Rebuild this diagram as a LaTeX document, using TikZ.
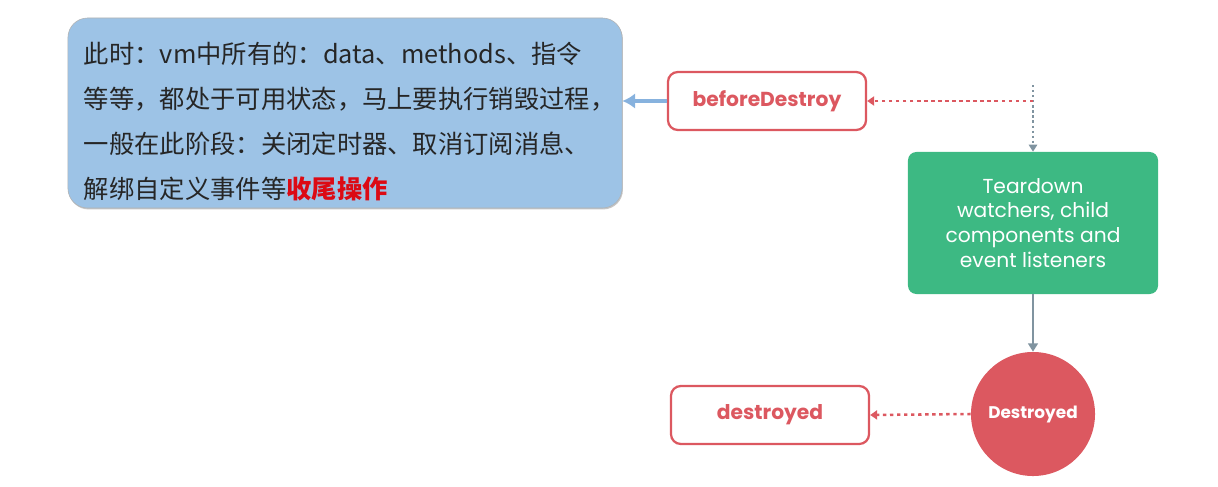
\documentclass[tikz,border=0pt]{standalone}
\usepackage{fontspec}
\setmainfont{Poppins}
\newfontfamily\cjkfont{Noto Sans CJK SC}
\definecolor{notefill}{RGB}{157,195,230}
\definecolor{hookred}{RGB}{220,88,96}
\definecolor{stepgreen}{RGB}{61,185,131}
\definecolor{flowgray}{RGB}{128,148,160}
\definecolor{notearrow}{RGB}{135,178,222}
\definecolor{keyred}{RGB}{220,10,20}
\usetikzlibrary{arrows.meta}
\usetikzlibrary{shadows}
\tikzset{
    hookbox/.style={draw=hookred, line width=1.6pt, fill=white, rounded corners=7pt,
        minimum width=4.95cm, minimum height=1.45cm, text=hookred, font=\bfseries\fontsize{14.4}{16}\selectfont},
    hookline/.style={hookred, line width=1.8pt, dash pattern=on 2.4pt off 2.6pt, -{Triangle[length=5pt,width=6.5pt]}},
    graydots/.style={flowgray, line width=1.1pt, dash pattern=on 1.6pt off 2pt, -{Triangle[length=5pt,width=6pt]}}
}

\begin{document}
\begin{tikzpicture}[x=0.025cm, y=-0.025cm]
    \useasboundingbox (0,0) rectangle (1218,487);

    \node[draw=gray!60, fill=notefill, rounded corners=14pt, minimum width=13.85cm, minimum height=4.75cm,
        drop shadow={opacity=0.45, shadow xshift=0.6pt, shadow yshift=-1pt}] (notebox) at (345,113) {};
    \node[text width=13.3cm, align=left, font=\cjkfont\fontsize{18}{32}\selectfont, text=black!85] (note) at (350,122)
        {此时：vm中所有的：data、methods、指令\\
         等等，都处于可用状态，马上要执行销毁过程，\\
         一般在此阶段：关闭定时器、取消订阅消息、\\
         解绑自定义事件等{\color{keyred}\bfseries 收尾操作}};

    \node[hookbox] (before) at (767,101) {beforeDestroy};
    \node[hookbox] (destroyedhook) at (770,415) {destroyed};

    \node[fill=stepgreen, rounded corners=6pt, minimum width=6.25cm, minimum height=3.55cm,
        text=white, align=center, font=\fontsize{14.4}{17.7}\selectfont] (teardown) at (1033,223)
        {Teardown\\watchers, child\\components and\\event listeners};
    \node[circle, fill=hookred, minimum size=3.1cm, inner sep=0pt, text=white,
        font=\bfseries\fontsize{12}{14}\selectfont] (destroyedstate) at (1033,414) {Destroyed};

    \coordinate (start) at (1033,85);
    \coordinate (split) at (1033,101);

    \draw[notearrow, line width=3pt, -{Latex[length=9pt,width=11pt]}] (before.west) -- (before.west -| notebox.east);
    \draw[graydots] (start) -- (teardown.north);
    \draw[hookline] (split) -- (before.east);
    \draw[flowgray, line width=1.6pt, -{Triangle[length=6pt,width=7pt]}] (teardown.south) -- (destroyedstate.north);
    \draw[hookline] (destroyedstate.west) -- (destroyedhook.east);
\end{tikzpicture}
\end{document}
